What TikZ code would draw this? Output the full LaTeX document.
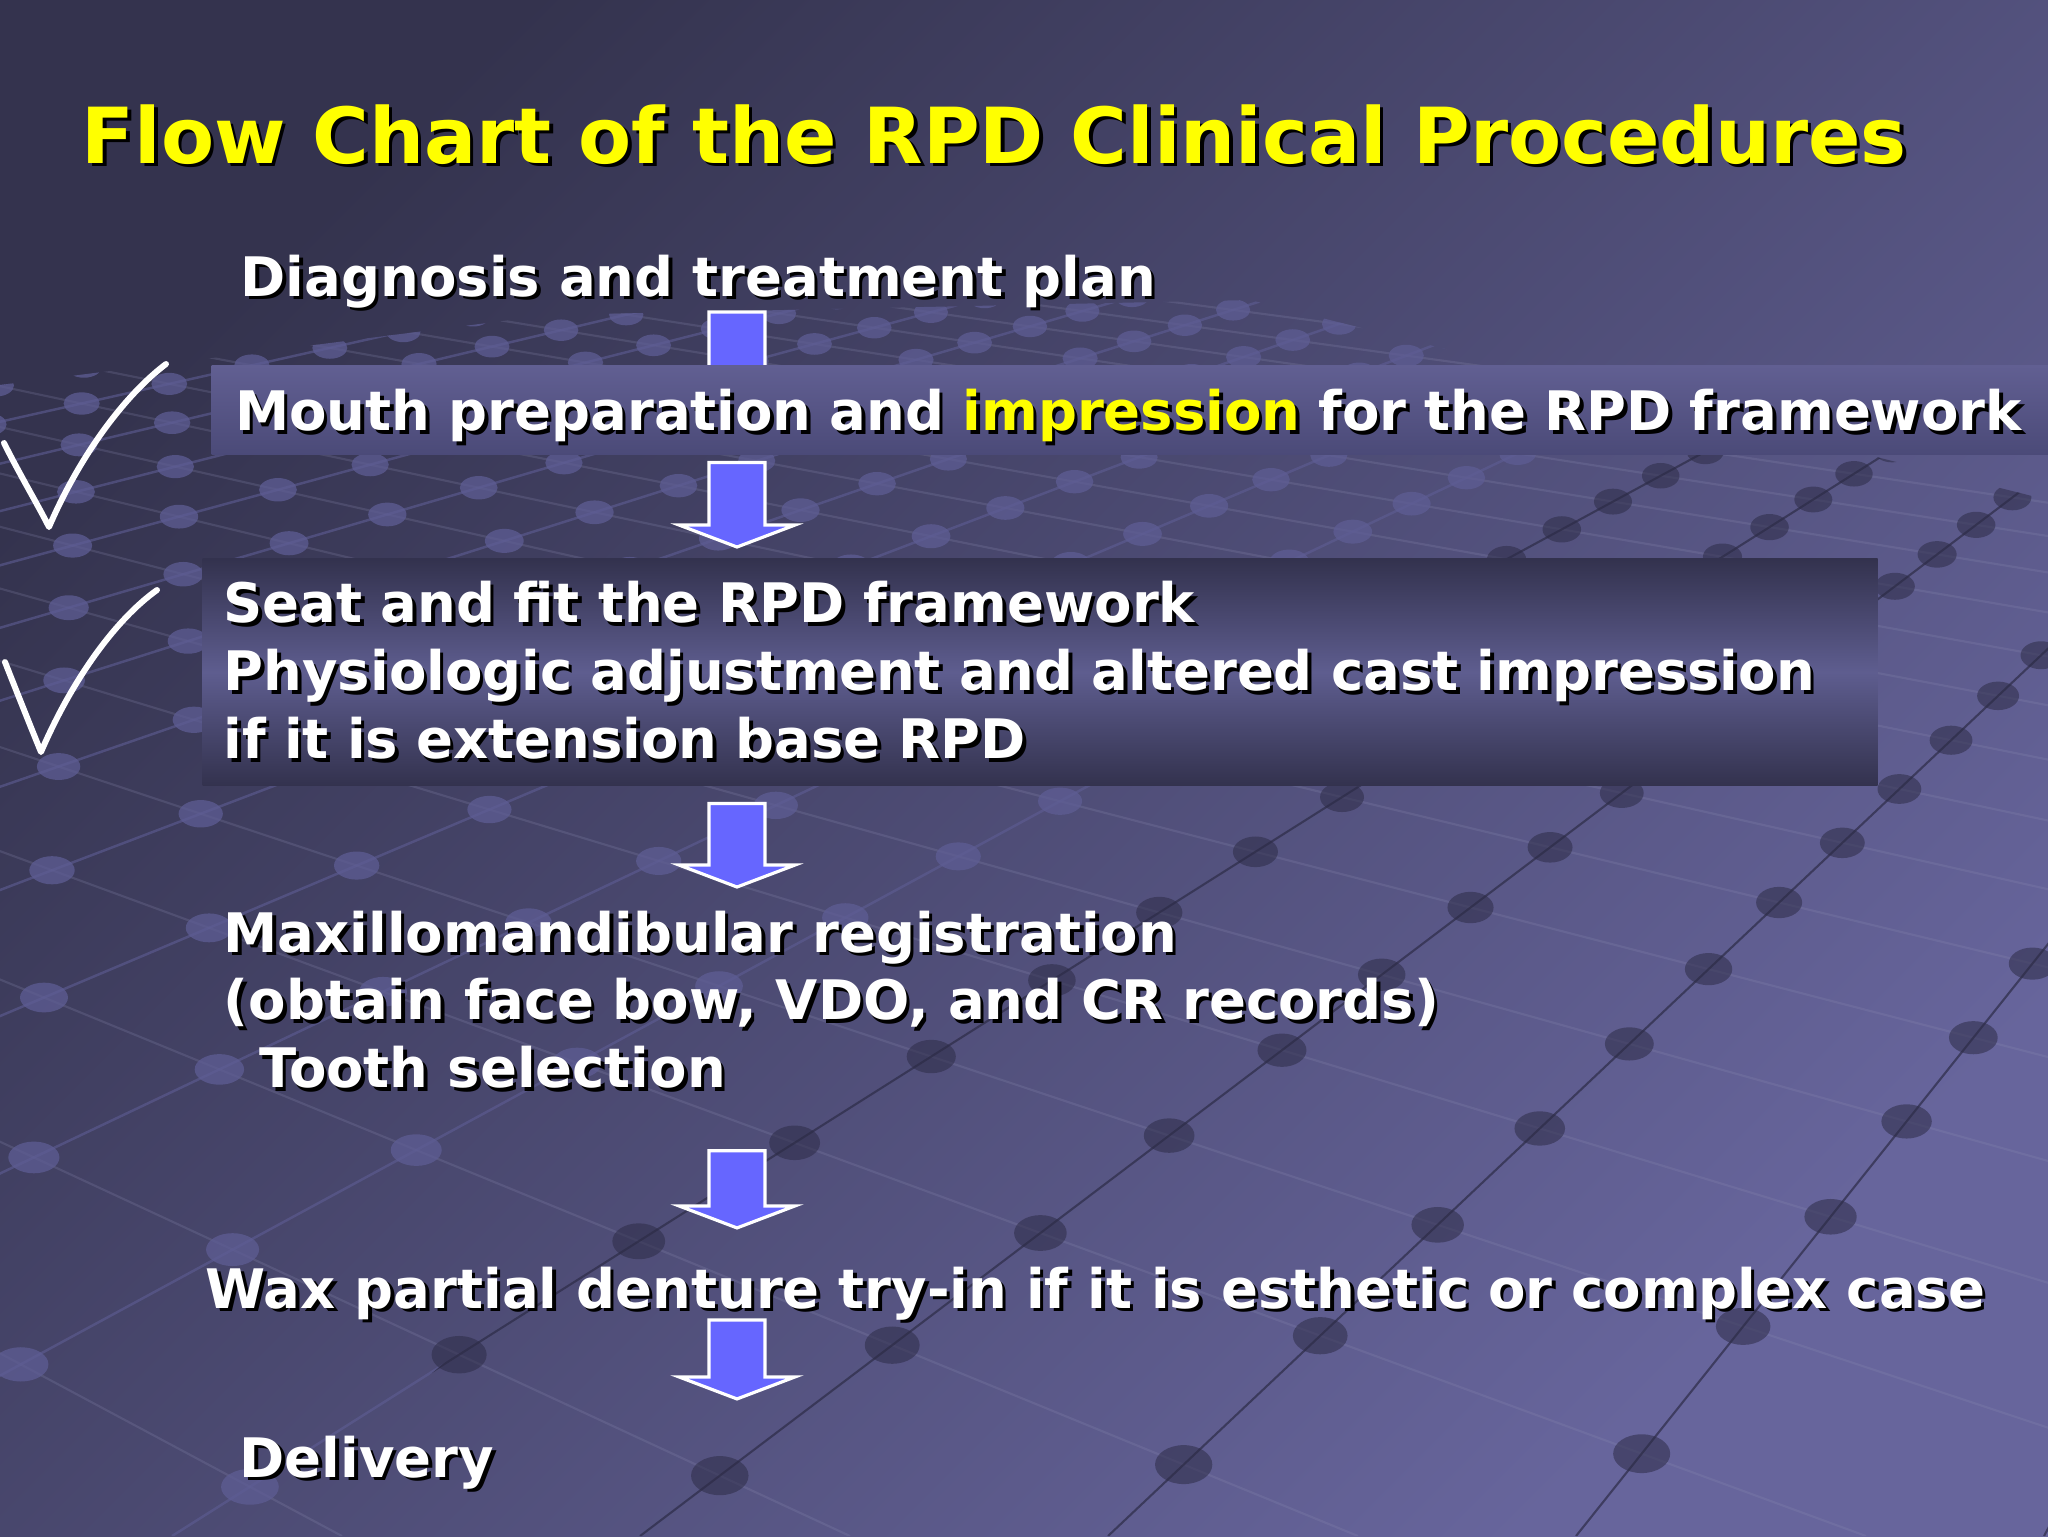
\documentclass[tikz,border=0pt]{standalone}
\usepackage{fontspec}
\setmainfont{DejaVu Sans}
\usetikzlibrary{positioning, calc}

\definecolor{bgdark}{HTML}{34334E}
\definecolor{bglight}{HTML}{67659C}
\definecolor{slideyellow}{HTML}{FFFF00}
\definecolor{arrowblue}{HTML}{6666FF}
\definecolor{bandtop}{HTML}{615F92}
\definecolor{bandbot}{HTML}{4B4A78}
\definecolor{panelmid}{HTML}{5E5D8F}
\definecolor{paneldark}{HTML}{33324E}
\definecolor{dotlight}{HTML}{5E5D94}
\definecolor{dotdark}{HTML}{2D2C47}
\colorlet{hlcolor}{slideyellow}

% text with a dark drop shadow
\newcommand\shd[1]{\mbox{\rlap{\colorlet{hlcolor}{black}\color{black}\kern1pt\raisebox{-1pt}{#1}}#1}}
\newcommand\hl[1]{\textcolor{hlcolor}{#1}}

\pgfdeclarelayer{back}
\pgfsetlayers{back,main}

\begin{document}
\begin{tikzpicture}[
    x=0.1mm, y=-0.1mm,
    heading/.style={anchor=base west, inner sep=0pt, text=slideyellow, font=\fontsize{22}{26}\selectfont\bfseries},
    plain/.style={inner sep=0pt, text=white, align=left, font=\fontsize{15.5}{19.3}\selectfont\bfseries},
    band/.style={plain, anchor=north west, top color=bandtop, bottom color=bandbot, minimum width=183.7mm, minimum height=8.9mm, inner xsep=2.3mm, text width=179mm, text depth=0pt},
    panel/.style={plain, anchor=north west, top color=paneldark, bottom color=paneldark, middle color=panelmid, minimum width=167.5mm, minimum height=22.7mm, inner xsep=2.1mm, text width=163.3mm},
    tick/.style={draw=white, line width=1.7pt, line cap=round, line join=round},
    gridlight/.style={draw=dotlight, line width=0.7pt, opacity=0.6},
    griddark/.style={draw=dotdark, line width=0.6pt, opacity=0.7},
    gridfaint/.style={draw=dotlight!70!white, line width=0.6pt, opacity=0.22},
    blockarrow/.style={fill=arrowblue, draw=white, line width=0.9pt, to path={
      let \p1=(\tikztostart), \p2=(\tikztotarget) in
      (\x1-2.8mm,\y1) -- (\x1+2.8mm,\y1) -- (\x1+2.8mm,\y2+2.2mm) -- (\x1+5.8mm,\y2+2.2mm)
      -- (\x1,\y2) -- (\x1-5.8mm,\y2+2.2mm) -- (\x1-2.8mm,\y2+2.2mm) -- cycle}},
]
\useasboundingbox (0,0) rectangle (2048,1536);
\coordinate (ax) at (737,0);

\node[heading] (title) at (81,163) {\shd{Flow Chart of the RPD Clinical Procedures}};

\node[plain, anchor=base west] (diag) at (240,296) {\shd{Diagnosis and treatment plan}};

\node[band] (mouth) at (211,365) {\shd{Mouth preparation and \hl{impression} for the RPD framework}};

\node[panel] (seat) at (202,558) {
  \shd{Seat and fit the RPD framework}\\
  \shd{Physiologic adjustment and altered cast impression}\\
  \shd{if it is extension base RPD}
};

\node[plain, anchor=north west] (maxreg) at (223,910) {
  \shd{Maxillomandibular registration}\\
  \shd{(obtain face bow, VDO, and CR records)}\\
  \shd{\hspace*{0.65em}Tooth selection}
};

\node[plain, anchor=base west] (wax) at (205,1308) {\shd{Wax partial denture try-in if it is esthetic or complex case}};

\node[plain, anchor=base west] (deliv) at (239,1477) {\shd{Delivery}};

% hand-drawn ticks
\draw[tick] (4,443) .. controls (20,475) and (38,505) .. (49,527) .. controls (80,455) and (125,395) .. (166,364);
\draw[tick] (5,662) .. controls (18,695) and (32,730) .. (41,752) .. controls (72,680) and (115,620) .. (157,590);

\path[blockarrow] ($(mouth.south -| ax)+(0,7)$) to ($(seat.north -| ax)+(0,-11)$);
\path[blockarrow] ($(seat.south -| ax)+(0,17)$) to ($(maxreg.north -| ax)+(0,-23)$);
\path[blockarrow] ($(maxreg.south -| ax)+(0,58)$) to ($(wax.north -| ax)+(0,-38)$);
\path[blockarrow] ($(wax.south -| ax)+(0,-4)$) to ($(deliv.north -| ax)+(0,-36)$);

\begin{pgfonlayer}{back}
  \shade[top color=bgdark, bottom color=bglight, shading angle=45] (0,0) rectangle (2048,1536);
  % perspective lattice of the slide template
  \begin{scope}
    \clip (0,385) -- (550,315) -- (1250,300) -- (2048,500) -- (2048,1536) -- (0,1536) -- cycle;
    \foreach \j in {-3,...,24} \draw[gridfaint] (-3000,-250) -- ({1358+508*\j},1536);
    \begin{scope}
      \clip (0,0) -- (2080,0) -- (0,1733) -- cycle;
      \foreach \k in {-16,...,4} \draw[gridlight] (3000,-250) -- ({640+468*\k},1536);
    \end{scope}
    \begin{scope}
      \clip (2080,0) -- (2200,0) -- (2200,1800) -- (0,1800) -- (0,1733) -- cycle;
      \foreach \k in {-16,...,4} \draw[griddark] (3000,-250) -- ({640+468*\k},1536);
    \end{scope}
    \foreach \k in {-16,...,4}{
      \foreach \j in {-3,...,24}{
        \pgfmathsetmacro\tt{60/(7.18+5.08*\j-4.68*\k+60)}
        \pgfmathsetmacro\px{3000+(640+468*\k-3000)*\tt}
        \pgfmathsetmacro\py{-250+1786*\tt}
        \pgfmathsetmacro\rx{14+0.01*\py}
        \pgfmathtruncatemacro\isdark{(\px+1.2*\py)>2080}
        \ifnum\isdark=1
          \fill[dotdark, opacity=0.55] (\px,\py) ellipse [x radius=\rx, y radius=0.68*\rx];
        \else
          \fill[dotlight, opacity=0.75] (\px,\py) ellipse [x radius=\rx, y radius=0.62*\rx];
        \fi
      }
    }
  \end{scope}
  \path[blockarrow] (diag.south -| ax) to (mouth.center -| ax);
\end{pgfonlayer}
\end{tikzpicture}
\end{document}
